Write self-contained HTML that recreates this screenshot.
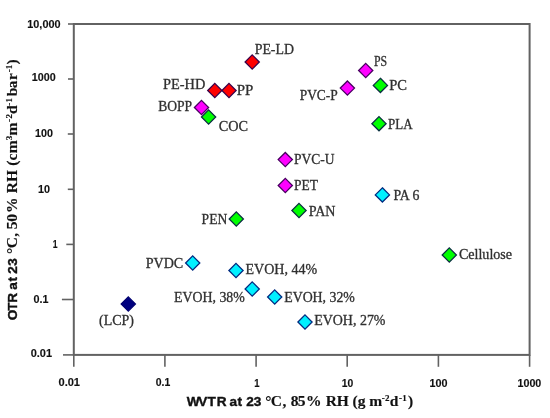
<!DOCTYPE html>
<html><head><meta charset="utf-8"><title>OTR vs WVTR</title>
<style>
html,body{margin:0;padding:0;background:#fff;}
body{width:550px;height:418px;overflow:hidden;}
svg{display:block;}
.lb{font-family:'Liberation Serif', serif;font-size:14px;fill:#303030;stroke:#303030;stroke-width:0.3px;}
.tk{font-family:'Liberation Sans', sans-serif;font-size:10px;font-weight:bold;fill:#111;stroke:#111;stroke-width:0.12px;}
</style></head><body>
<svg width="550" height="418" viewBox="0 0 550 418">
<rect x="73.8" y="24.0" width="455.8" height="330.9" fill="none" stroke="#626262" stroke-width="2"/>
<line x1="68.0" y1="24.0" x2="73.8" y2="24.0" stroke="#626262" stroke-width="1.6"/>
<text class="tk" x="27.3" y="27.9" textLength="33.2" lengthAdjust="spacingAndGlyphs">10,000</text>
<line x1="68.0" y1="79.0" x2="73.8" y2="79.0" stroke="#626262" stroke-width="1.6"/>
<text class="tk" x="31.8" y="81.4" textLength="23.9" lengthAdjust="spacingAndGlyphs">1000</text>
<line x1="67.8" y1="134.0" x2="73.8" y2="134.0" stroke="#626262" stroke-width="1.6"/>
<text class="tk" x="35.0" y="137.3" textLength="17.9" lengthAdjust="spacingAndGlyphs">100</text>
<line x1="67.8" y1="189.3" x2="73.8" y2="189.3" stroke="#626262" stroke-width="1.6"/>
<text class="tk" x="38.0" y="192.7" textLength="12.0" lengthAdjust="spacingAndGlyphs">10</text>
<line x1="66.3" y1="244.4" x2="73.8" y2="244.4" stroke="#626262" stroke-width="1.6"/>
<text class="tk" x="52.7" y="247.5" textLength="4.8" lengthAdjust="spacingAndGlyphs">1</text>
<line x1="61.9" y1="299.5" x2="73.8" y2="299.5" stroke="#626262" stroke-width="1.6"/>
<text class="tk" x="33.6" y="302.7" textLength="15.0" lengthAdjust="spacingAndGlyphs">0.1</text>
<line x1="63.0" y1="354.9" x2="73.8" y2="354.9" stroke="#626262" stroke-width="1.6"/>
<text class="tk" x="30.7" y="357.3" textLength="21.3" lengthAdjust="spacingAndGlyphs">0.01</text>
<line x1="73.8" y1="354.9" x2="73.8" y2="366.8" stroke="#626262" stroke-width="1.6"/>
<text class="tk" x="58.5" y="386.3" textLength="21.5" lengthAdjust="spacingAndGlyphs">0.01</text>
<line x1="164.9" y1="354.9" x2="164.9" y2="366.8" stroke="#626262" stroke-width="1.6"/>
<text class="tk" x="155.8" y="386.3" textLength="14.5" lengthAdjust="spacingAndGlyphs">0.1</text>
<line x1="256.1" y1="354.9" x2="256.1" y2="366.8" stroke="#626262" stroke-width="1.6"/>
<text class="tk" x="254.2" y="386.5" textLength="5.3" lengthAdjust="spacingAndGlyphs">1</text>
<line x1="347.2" y1="354.9" x2="347.2" y2="366.8" stroke="#626262" stroke-width="1.6"/>
<text class="tk" x="341.8" y="386.5" textLength="11.5" lengthAdjust="spacingAndGlyphs">10</text>
<line x1="438.4" y1="354.9" x2="438.4" y2="366.8" stroke="#626262" stroke-width="1.6"/>
<text class="tk" x="429.6" y="386.5" textLength="18.0" lengthAdjust="spacingAndGlyphs">100</text>
<line x1="529.6" y1="354.9" x2="529.6" y2="366.8" stroke="#626262" stroke-width="1.6"/>
<text class="tk" x="517.5" y="386.5" textLength="23.8" lengthAdjust="spacingAndGlyphs">1000</text>
<path d="M252.2 54.9L259.3 62.0L252.2 69.1L245.1 62.0Z" fill="#ff0000" stroke="#3a0048" stroke-width="1.3" stroke-linejoin="miter"/>
<path d="M214.8 83.4L221.9 90.5L214.8 97.6L207.7 90.5Z" fill="#ff0000" stroke="#3a0048" stroke-width="1.3" stroke-linejoin="miter"/>
<path d="M229.0 83.4L236.1 90.5L229.0 97.6L221.9 90.5Z" fill="#ff0000" stroke="#3a0048" stroke-width="1.3" stroke-linejoin="miter"/>
<path d="M208.6 109.9L215.7 117.0L208.6 124.1L201.5 117.0Z" fill="#00ff00" stroke="#0a3040" stroke-width="1.3" stroke-linejoin="miter"/>
<path d="M201.5 100.4L208.6 107.5L201.5 114.6L194.4 107.5Z" fill="#ff00ff" stroke="#480060" stroke-width="1.3" stroke-linejoin="miter"/>
<path d="M365.7 63.4L372.8 70.5L365.7 77.6L358.6 70.5Z" fill="#ff00ff" stroke="#480060" stroke-width="1.3" stroke-linejoin="miter"/>
<path d="M347.4 81.0L354.5 88.1L347.4 95.2L340.3 88.1Z" fill="#ff00ff" stroke="#480060" stroke-width="1.3" stroke-linejoin="miter"/>
<path d="M380.4 78.3L387.5 85.4L380.4 92.5L373.3 85.4Z" fill="#00ff00" stroke="#0a3040" stroke-width="1.3" stroke-linejoin="miter"/>
<path d="M379.0 116.6L386.1 123.7L379.0 130.8L371.9 123.7Z" fill="#00ff00" stroke="#0a3040" stroke-width="1.3" stroke-linejoin="miter"/>
<path d="M285.3 152.5L292.4 159.6L285.3 166.7L278.2 159.6Z" fill="#ff00ff" stroke="#480060" stroke-width="1.3" stroke-linejoin="miter"/>
<path d="M285.3 178.4L292.4 185.5L285.3 192.6L278.2 185.5Z" fill="#ff00ff" stroke="#480060" stroke-width="1.3" stroke-linejoin="miter"/>
<path d="M299.0 203.4L306.1 210.5L299.0 217.6L291.9 210.5Z" fill="#00ff00" stroke="#0a3040" stroke-width="1.3" stroke-linejoin="miter"/>
<path d="M236.3 211.9L243.4 219.0L236.3 226.1L229.2 219.0Z" fill="#00ff00" stroke="#0a3040" stroke-width="1.3" stroke-linejoin="miter"/>
<path d="M382.4 187.8L389.5 194.9L382.4 202.0L375.3 194.9Z" fill="#00f0ff" stroke="#002a80" stroke-width="1.3" stroke-linejoin="miter"/>
<path d="M449.3 247.9L456.4 255.0L449.3 262.1L442.2 255.0Z" fill="#00ff00" stroke="#0a3040" stroke-width="1.3" stroke-linejoin="miter"/>
<path d="M192.7 255.9L199.8 263.0L192.7 270.1L185.6 263.0Z" fill="#00f0ff" stroke="#002a80" stroke-width="1.3" stroke-linejoin="miter"/>
<path d="M236.0 263.4L243.1 270.5L236.0 277.6L228.9 270.5Z" fill="#00f0ff" stroke="#002a80" stroke-width="1.3" stroke-linejoin="miter"/>
<path d="M252.2 281.9L259.3 289.0L252.2 296.1L245.1 289.0Z" fill="#00f0ff" stroke="#002a80" stroke-width="1.3" stroke-linejoin="miter"/>
<path d="M274.7 289.9L281.8 297.0L274.7 304.1L267.6 297.0Z" fill="#00f0ff" stroke="#002a80" stroke-width="1.3" stroke-linejoin="miter"/>
<path d="M305.0 314.9L312.1 322.0L305.0 329.1L297.9 322.0Z" fill="#00f0ff" stroke="#002a80" stroke-width="1.3" stroke-linejoin="miter"/>
<path d="M128.3 296.9L135.4 304.0L128.3 311.1L121.2 304.0Z" fill="#000080" stroke="#000070" stroke-width="1.3" stroke-linejoin="miter"/>
<text class="lb" x="254.7" y="53.9" textLength="39.3" lengthAdjust="spacingAndGlyphs">PE-LD</text>
<text class="lb" x="163.0" y="88.8" textLength="42.3" lengthAdjust="spacingAndGlyphs">PE-HD</text>
<text class="lb" x="236.7" y="94.6" textLength="16.6" lengthAdjust="spacingAndGlyphs">PP</text>
<text class="lb" x="158.2" y="110.9" textLength="34.0" lengthAdjust="spacingAndGlyphs">BOPP</text>
<text class="lb" x="218.7" y="130.9" textLength="29.3" lengthAdjust="spacingAndGlyphs">COC</text>
<text class="lb" x="374.0" y="66.0" textLength="13.2" lengthAdjust="spacingAndGlyphs">PS</text>
<text class="lb" x="299.7" y="99.8" textLength="38.1" lengthAdjust="spacingAndGlyphs">PVC-P</text>
<text class="lb" x="389.2" y="89.6" textLength="17.8" lengthAdjust="spacingAndGlyphs">PC</text>
<text class="lb" x="388.0" y="129.0" textLength="24.6" lengthAdjust="spacingAndGlyphs">PLA</text>
<text class="lb" x="294.1" y="164.1" textLength="40.5" lengthAdjust="spacingAndGlyphs">PVC-U</text>
<text class="lb" x="294.1" y="190.0" textLength="23.9" lengthAdjust="spacingAndGlyphs">PET</text>
<text class="lb" x="308.7" y="216.2" textLength="26.8" lengthAdjust="spacingAndGlyphs">PAN</text>
<text class="lb" x="201.6" y="223.8" textLength="25.6" lengthAdjust="spacingAndGlyphs">PEN</text>
<text class="lb" x="393.4" y="200.0" textLength="26.0" lengthAdjust="spacingAndGlyphs">PA 6</text>
<text class="lb" x="458.9" y="258.7" textLength="53.2" lengthAdjust="spacingAndGlyphs">Cellulose</text>
<text class="lb" x="145.7" y="267.5" textLength="37.6" lengthAdjust="spacingAndGlyphs">PVDC</text>
<text class="lb" x="245.5" y="273.6" textLength="71.6" lengthAdjust="spacingAndGlyphs">EVOH, 44%</text>
<text class="lb" x="174.0" y="302.4" textLength="70.8" lengthAdjust="spacingAndGlyphs">EVOH, 38%</text>
<text class="lb" x="284.2" y="302.1" textLength="70.7" lengthAdjust="spacingAndGlyphs">EVOH, 32%</text>
<text class="lb" x="314.2" y="325.4" textLength="71.3" lengthAdjust="spacingAndGlyphs">EVOH, 27%</text>
<text class="lb" x="99.1" y="325.3" textLength="34.9" lengthAdjust="spacingAndGlyphs">(LCP)</text>
<text font-weight="bold" fill="#111" stroke="#111" stroke-width="0.15"><tspan x="186.63 198.26 207.39 216.67 227.00 229.53 237.49 243.00 246.35 253.86 262.00" stroke-width="0.4" y="405.50" font-family="'Liberation Sans', sans-serif" font-size="13.6px">WVTR at 23 </tspan><tspan x="265.21 270.72 282.46 287.00 290.77 297.85 306.08 322.00 325.70 336.72 350.00 352.53 357.70 366.00 369.37" y="405.50" font-family="'Liberation Serif', serif" font-size="15.5px">°C, 85% RH (g m</tspan><tspan x="381.75 385.10" y="400.50" font-family="'Liberation Serif', serif" font-size="9px">-2</tspan><tspan x="389.66" y="405.50" font-family="'Liberation Serif', serif" font-size="15.5px">d</tspan><tspan x="398.90 402.27" y="400.50" font-family="'Liberation Serif', serif" font-size="9px">-1</tspan><tspan x="407.91" y="405.50" font-family="'Liberation Serif', serif" font-size="15.5px">)</tspan></text>
<g transform="translate(17.0 319.6) rotate(-90)">
<text font-weight="bold" fill="#111" stroke="#111" stroke-width="0.15"><tspan x="-0.63 8.74 16.82 28.00 29.88 38.14 43.00 45.95 53.76 62.00" stroke-width="0.4" y="0.00" font-family="'Liberation Sans', sans-serif" font-size="13.6px">OTR at 23 </tspan><tspan x="65.71 71.47 82.76 87.00 90.40 97.97 106.63 123.00 126.45 137.72 151.00 153.83 159.09 166.47" y="0.00" font-family="'Liberation Serif', serif" font-size="15.5px">°C, 50% RH (cm</tspan><tspan x="179.33" y="-5.00" font-family="'Liberation Serif', serif" font-size="9px">3</tspan><tspan x="184.07" y="0.00" font-family="'Liberation Serif', serif" font-size="15.5px">m</tspan><tspan x="197.60 201.00" y="-5.00" font-family="'Liberation Serif', serif" font-size="9px">-2</tspan><tspan x="205.71" y="0.00" font-family="'Liberation Serif', serif" font-size="15.5px">d</tspan><tspan x="213.95 217.02" y="-5.00" font-family="'Liberation Serif', serif" font-size="9px">-1</tspan><tspan x="223.31 231.44 239.62" y="0.00" font-family="'Liberation Serif', serif" font-size="15.5px">bar</tspan><tspan x="247.40 250.42" y="-5.00" font-family="'Liberation Serif', serif" font-size="9px">-1</tspan><tspan x="255.11" y="0.00" font-family="'Liberation Serif', serif" font-size="15.5px">)</tspan></text>
</g>
</svg>
</body></html>
